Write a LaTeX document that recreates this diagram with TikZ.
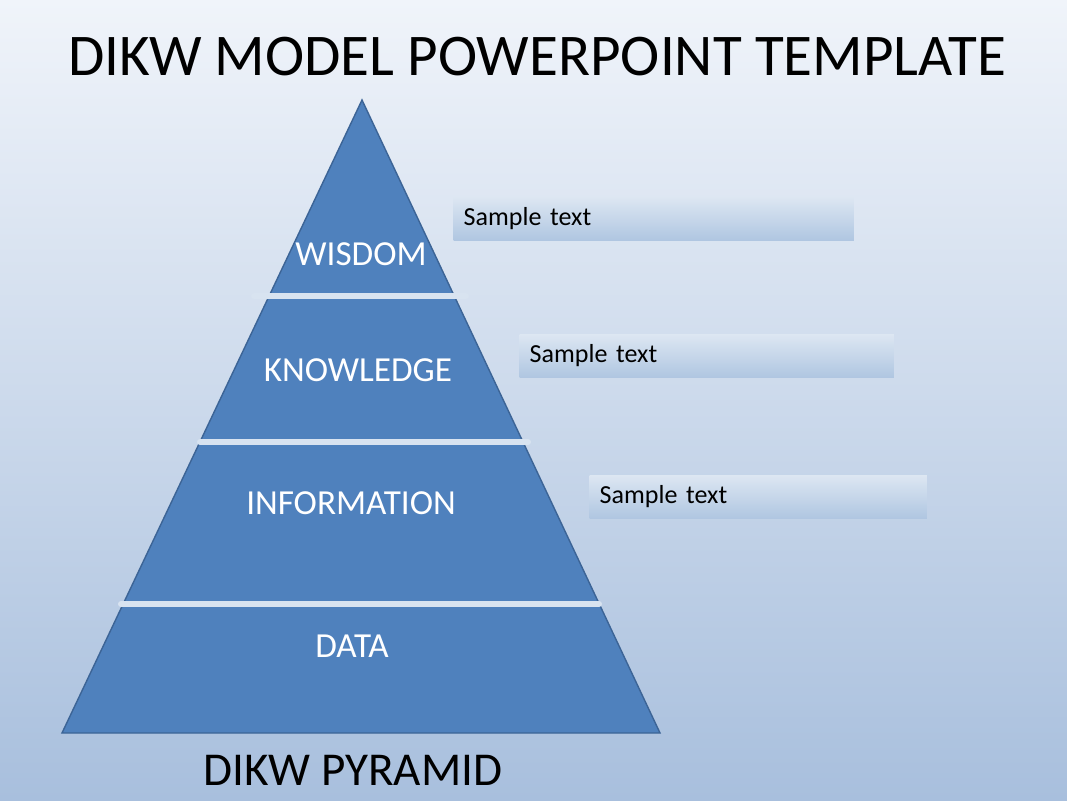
\documentclass[tikz,border=0pt]{standalone}
\usepackage{fontspec}
\setmainfont{Carlito}
\usetikzlibrary{positioning}
\definecolor{pyrblue}{HTML}{4F81BD}
\definecolor{pyredge}{HTML}{3C6496}
\definecolor{bgtop}{HTML}{F0F4FA}
\definecolor{bgbot}{HTML}{A8BFDD}
\tikzset{
  layer/.style={text=white,font=\fontsize{10}{12}\selectfont},
  samplebox/.style={minimum height=0.42cm,anchor=west,inner xsep=0.1cm,inner ysep=0pt,
    align=left,top color=white!80!pyrblue,bottom color=pyrblue!45,
    font=\fontsize{7.4}{8}\selectfont,text=black},
  bar/.style={line width=0.06cm,color=white!78!pyrblue,line cap=round}
}
\begin{document}
\begin{tikzpicture}[x=0.01cm,y=-0.01cm]
  \shade[top color=bgtop,bottom color=bgbot] (0,0) rectangle (1067,800);
  \useasboundingbox (0,0) rectangle (1067,800);

  % title
  \node (title) at (537,57) {\fontsize{16.8}{20}\selectfont DIKW MODEL POWERPOINT TEMPLATE};

  % pyramid
  \fill[pyrblue,draw=pyredge,line width=0.4pt] (362,100) -- (660,733) -- (62,733) -- cycle;
  \draw[bar] (254,296) -- (466,296);
  \draw[bar] (200,442) -- (528,442);
  \draw[bar] (121,604) -- (599,604);

  \node[layer] (wisdom) at (361,254) {WISDOM};
  \node[layer] (knowledge) at (358,370) {KNOWLEDGE};
  \node[layer] (information) at (351,503) {INFORMATION};
  \node[layer] (data) at (352,646) {DATA};

  \node (pyramid) at (353,770) {\fontsize{13.4}{16}\selectfont DIKW PYRAMID};

  % sample texts
  \node[samplebox,text width=3.8cm] (s1) at (453,219) {Sample text};
  \node[samplebox,text width=3.54cm] (s2) at (519,356) {Sample text};
  \node[samplebox,text width=3.17cm] (s3) at (589,497) {Sample text};
\end{tikzpicture}
\end{document}
